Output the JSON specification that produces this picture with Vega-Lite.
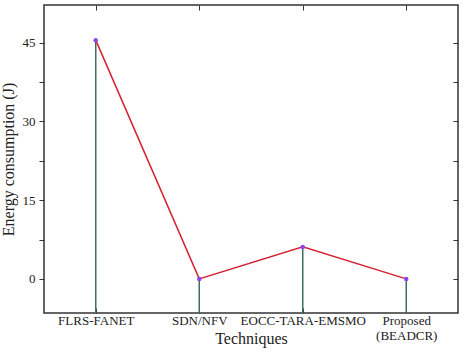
{
  "$schema": "https://vega.github.io/schema/vega-lite/v6.json",
  "autosize": "none",
  "padding": {"left": 44, "top": 5, "right": 16, "bottom": 40},
  "width": 414,
  "height": 308,
  "background": "white",
  "config": {
    "font": "Liberation Serif",
    "view": {"stroke": "#333333", "strokeWidth": 1.5},
    "axis": {"grid": false, "domain": false, "tickColor": "#333333", "labelColor": "#222222", "titleColor": "#222222", "labelFont": "Liberation Serif", "titleFont": "Liberation Serif", "titleFontWeight": "normal"}
  },
  "data": {"values": [
    {"technique": "FLRS-FANET", "energy": 45.5},
    {"technique": "SDN/NFV", "energy": 0},
    {"technique": "EOCC-TARA-EMSMO", "energy": 6.1},
    {"technique": "Proposed|(BEADCR)", "energy": 0}
  ]},
  "layer": [
    {
      "mark": {"type": "rule", "color": "#3d6e62", "strokeWidth": 1.5},
      "encoding": {
        "y2": {"datum": -6.5},
        "x": {"field": "technique", "type": "nominal", "sort": null,
          "scale": {"type": "point", "padding": 0.5},
          "axis": {"orient": "bottom", "title": "Techniques", "titleFont": "Liberation Serif", "titleFontSize": 16, "titlePadding": -12, "labelFont": "Liberation Serif", "labelFontSize": 13, "labelAngle": 0, "labelPadding": 6, "tickSize": -5, "labelLineHeight": 15, "labelExpr": "split(datum.label, '|')"}},
        "y": {"field": "energy", "type": "quantitative",
          "scale": {"domain": [-6.5, 52.2], "nice": false, "zero": false},
          "axis": {"orient": "left", "title": "Energy consumption (J)", "titleFont": "Liberation Serif", "titleFontSize": 16, "titlePadding": 6, "labelFont": "Liberation Serif", "labelFontSize": 13, "tickSize": 5, "labelPadding": 4, "values": [0, 7.5, 15, 22.5, 30, 37.5, 45], "labelExpr": "datum.value % 15 == 0 ? datum.label : ''"}}
      }
    },
    {
      "mark": {"type": "line", "color": "#d42030", "strokeWidth": 1.5},
      "encoding": {
        "x": {"field": "technique", "type": "nominal", "sort": null,
          "scale": {"type": "point", "padding": 0.5},
          "axis": {"orient": "top", "title": null, "labels": false, "tickSize": -5}},
        "y": {"field": "energy", "type": "quantitative",
          "scale": {"domain": [-6.5, 52.2], "nice": false, "zero": false},
          "axis": {"orient": "right", "title": null, "labels": false, "tickSize": -5, "values": [0, 7.5, 15, 22.5, 30, 37.5, 45]}}
      }
    },
    {
      "mark": {"type": "point", "filled": true, "color": "#8e44ec", "size": 20, "opacity": 1},
      "encoding": {
        "x": {"field": "technique", "type": "nominal", "sort": null,
          "scale": {"type": "point", "padding": 0.5}, "axis": null},
        "y": {"field": "energy", "type": "quantitative",
          "scale": {"domain": [-6.5, 52.2], "nice": false, "zero": false}, "axis": null}
      }
    }
  ],
  "resolve": {"axis": {"x": "independent", "y": "independent"}}
}
